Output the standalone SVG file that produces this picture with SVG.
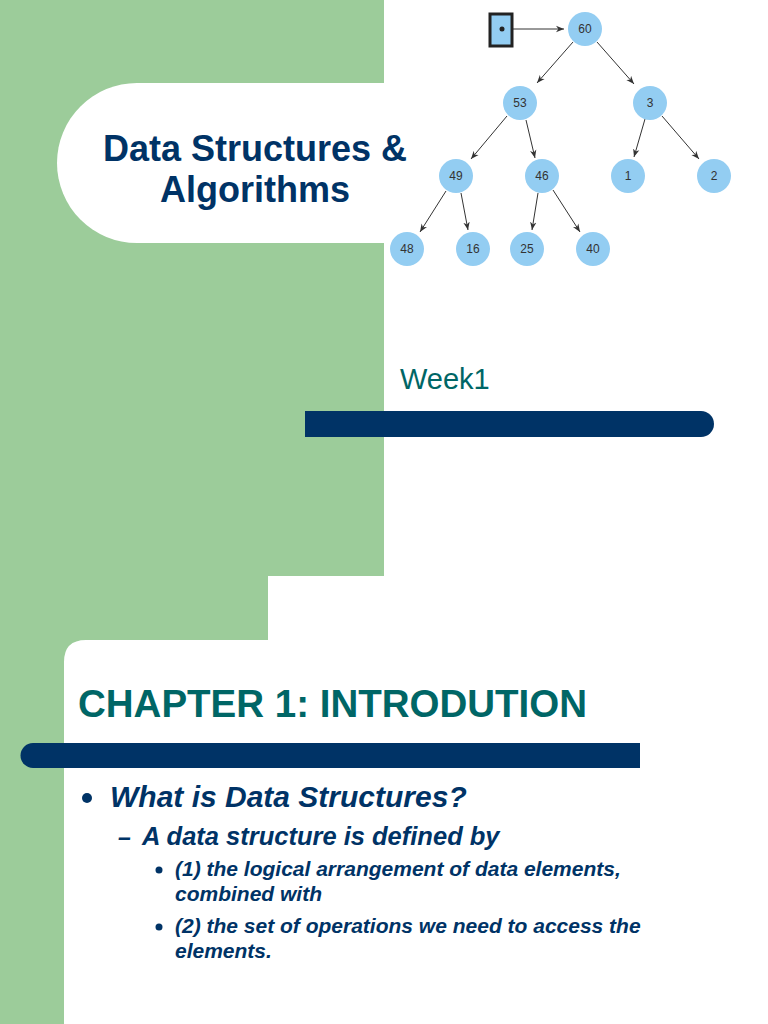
<svg xmlns="http://www.w3.org/2000/svg" width="768" height="1024" viewBox="0 0 768 1024">
<style>
.n{fill:#93cdf2}
.nt{font-family:"Liberation Sans",Arial,sans-serif;font-size:12px;fill:#333;text-anchor:middle}
.e{stroke:#333;stroke-width:1;fill:none;marker-end:url(#a)}
.b{font-family:"Liberation Sans",Arial,sans-serif;font-weight:bold;font-style:italic;fill:#003366}
</style>
<defs><marker id="a" viewBox="0 0 10 10" refX="10" refY="5" markerWidth="8" markerHeight="8" orient="auto"><path d="M0,1 L10,5 L0,9 L3,5 Z" fill="#333"/></marker></defs>
<rect width="768" height="1024" fill="#fff"/>
<path d="M0,0 H384 V576 H268 V640 H86 Q64,640 64,662 V1024 H0 Z" fill="#9ccc9a"/>
<path d="M384,83 H137 A80,80 0 0 0 137,243 H384 Z" fill="#fff"/>
<g id="title"><text x="255" y="161" font-family="Liberation Sans,Arial,sans-serif" font-weight="bold" font-size="36" fill="#003366" text-anchor="middle">Data Structures &amp;</text>
<text x="255" y="202" font-family="Liberation Sans,Arial,sans-serif" font-weight="bold" font-size="36" fill="#003366" text-anchor="middle">Algorithms</text></g>
<text x="400" y="389" font-family="Liberation Sans,Arial,sans-serif" font-size="29" fill="#006666">Week1</text>
<path d="M305,411 H701 A13,13 0 0 1 701,437 H305 Z" fill="#003366"/>
<path d="M640,743 H33 A12.5,12.5 0 0 0 33,768 H640 Z" fill="#003366"/>
<text x="78" y="717" font-family="Liberation Sans,Arial,sans-serif" font-weight="bold" font-size="38.5" fill="#006666">CHAPTER 1: INTRODUTION</text>
<circle cx="87" cy="798" r="5" fill="#003366"/>
<text class="b" x="110" y="807" font-size="30">What is Data Structures?</text>
<text class="b" x="118" y="845" font-size="23" font-style="normal">–</text>
<text class="b" x="142" y="845" font-size="25.5">A data structure is defined by</text>
<circle cx="159" cy="870" r="3.5" fill="#003366"/>
<text class="b" x="175" y="876" font-size="21">(1) the logical arrangement of data elements,</text>
<text class="b" x="175" y="901" font-size="21">combined with</text>
<circle cx="159" cy="927" r="3.5" fill="#003366"/>
<text class="b" x="175" y="933" font-size="21">(2) the set of operations we need to access the</text>
<text class="b" x="175" y="958" font-size="21">elements.</text>
<g id="connectors">
<line class="e" x1="502" y1="29" x2="564" y2="29"/>
<line class="e" x1="573" y1="42" x2="537" y2="83"/>
<line class="e" x1="597" y1="42" x2="634" y2="84"/>
<line class="e" x1="507" y1="116" x2="471" y2="159"/>
<line class="e" x1="526" y1="120" x2="535" y2="158"/>
<line class="e" x1="645" y1="119" x2="634" y2="157"/>
<line class="e" x1="662" y1="116" x2="699" y2="159"/>
<line class="e" x1="446" y1="191" x2="420" y2="232"/>
<line class="e" x1="461" y1="193" x2="468" y2="230"/>
<line class="e" x1="538" y1="193" x2="532" y2="230"/>
<line class="e" x1="553" y1="190" x2="580" y2="232"/>
</g>
<g id="ptr"><rect x="490" y="14" width="22" height="32" fill="#93cdf2" stroke="#222" stroke-width="3"/><circle cx="502" cy="29" r="2.5" fill="#222"/></g>
<g id="n60"><circle class="n" cx="585" cy="29" r="17"/><text class="nt" x="585" y="33">60</text></g>
<g id="n53"><circle class="n" cx="520" cy="103" r="17"/><text class="nt" x="520" y="107">53</text></g>
<g id="n3"><circle class="n" cx="650" cy="103" r="17"/><text class="nt" x="650" y="107">3</text></g>
<g id="n49"><circle class="n" cx="456" cy="176" r="17"/><text class="nt" x="456" y="180">49</text></g>
<g id="n46"><circle class="n" cx="542" cy="176" r="17"/><text class="nt" x="542" y="180">46</text></g>
<g id="n1"><circle class="n" cx="628" cy="176" r="17"/><text class="nt" x="628" y="180">1</text></g>
<g id="n2"><circle class="n" cx="714" cy="176" r="17"/><text class="nt" x="714" y="180">2</text></g>
<g id="n48"><circle class="n" cx="407" cy="249" r="17"/><text class="nt" x="407" y="253">48</text></g>
<g id="n16"><circle class="n" cx="473" cy="249" r="17"/><text class="nt" x="473" y="253">16</text></g>
<g id="n25"><circle class="n" cx="527" cy="249" r="17"/><text class="nt" x="527" y="253">25</text></g>
<g id="n40"><circle class="n" cx="593" cy="249" r="17"/><text class="nt" x="593" y="253">40</text></g>
</svg>
